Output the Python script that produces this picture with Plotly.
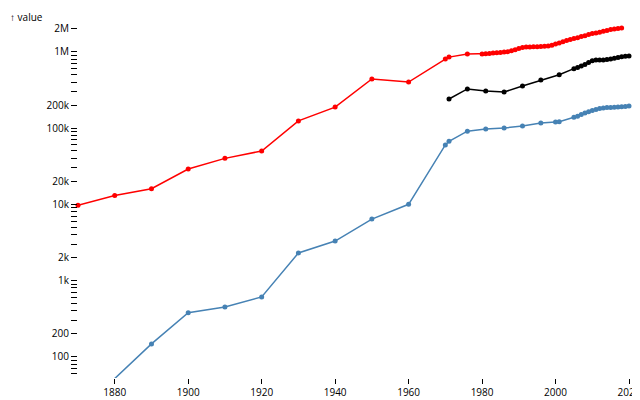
import plotly.graph_objects as go

red_x = [1870,1880,1890,1900,1910,1920,1930,1940,1950,1960,1970,1971,1976] + list(range(1980,2021))
red_y = [9700,13000,16000,29000,40000,50000,124000,188000,440000,400000,800000,850000,930000,
         930000,940000,950000,960000,970000,980000,990000,1000000,1030000,1060000,1100000,1140000,
         1150000,1150000,1160000,1160000,1170000,1180000,1190000,1220000,1260000,1300000,1350000,
         1400000,1450000,1490000,1530000,1580000,1620000,1680000,1730000,1760000,1800000,1850000,
         1900000,1950000,1990000,2020000,2050000]
blk_x = [1971,1976,1981,1986,1991,1996,2001] + list(range(2005,2021))
blk_y = [240000,325000,305000,296000,355000,425000,500000,600000,620000,650000,680000,720000,
         760000,780000,780000,780000,790000,800000,820000,840000,860000,870000,880000,890000]
blu_x = [1880,1890,1900,1910,1920,1930,1940,1950,1960,1970,1971,1976,1981,1986,1991,1996,2000,2001] + list(range(2005,2021))
blu_y = [52,148,380,450,610,2300,3300,6400,10000,60000,67000,91000,97000,100000,106000,116000,120000,121000,
         138000,143000,150000,157000,163000,169000,175000,180000,183000,185000,186000,187000,188000,190000,192000,195000]

fig = go.Figure()
for xs, ys, c in [(red_x, red_y, "red"), (blk_x, blk_y, "black"), (blu_x, blu_y, "steelblue")]:
    fig.add_trace(go.Scatter(x=xs, y=ys, mode="lines+markers", line=dict(color=c, width=1.5),
                             marker=dict(color=c, size=5), showlegend=False, cliponaxis=False))

tv, tt = [], []
labels = {100: "100", 200: "200", 1000: "1k", 2000: "2k", 10000: "10k", 20000: "20k",
          100000: "100k", 200000: "200k", 1000000: "1M", 2000000: "2M"}
for dec in [10, 100, 1000, 10000, 100000, 1000000]:
    for m in range(1, 10):
        v = dec * m
        if v < 55 or v > 2000000:
            continue
        if v in labels:
            tv.append(v); tt.append(labels[v])
        elif m >= 3:
            tv.append(v); tt.append("")

fig.update_layout(
    width=640, height=400, margin=dict(l=70, r=19, t=10, b=30),
    plot_bgcolor="white", paper_bgcolor="white",
    font=dict(family="Open Sans", size=10, color="black"),
    xaxis=dict(range=[1870, 2020], tickvals=list(range(1880, 2021, 20)), showgrid=False,
               zeroline=False, showline=False, ticks="outside", ticklen=5, tickcolor="black",
               automargin=False),
    yaxis=dict(type="log", range=[1.723, 6.442], tickvals=tv, ticktext=tt, showgrid=False,
               zeroline=False, showline=False, ticks="outside", ticklen=6, tickcolor="black",
               automargin=False),
    annotations=[dict(text="↑ value", x=0, y=1, xref="paper", yref="paper", xanchor="left",
                      yanchor="top", xshift=-70, yshift=10, showarrow=False)],
)
fig.write_html("out.html")
